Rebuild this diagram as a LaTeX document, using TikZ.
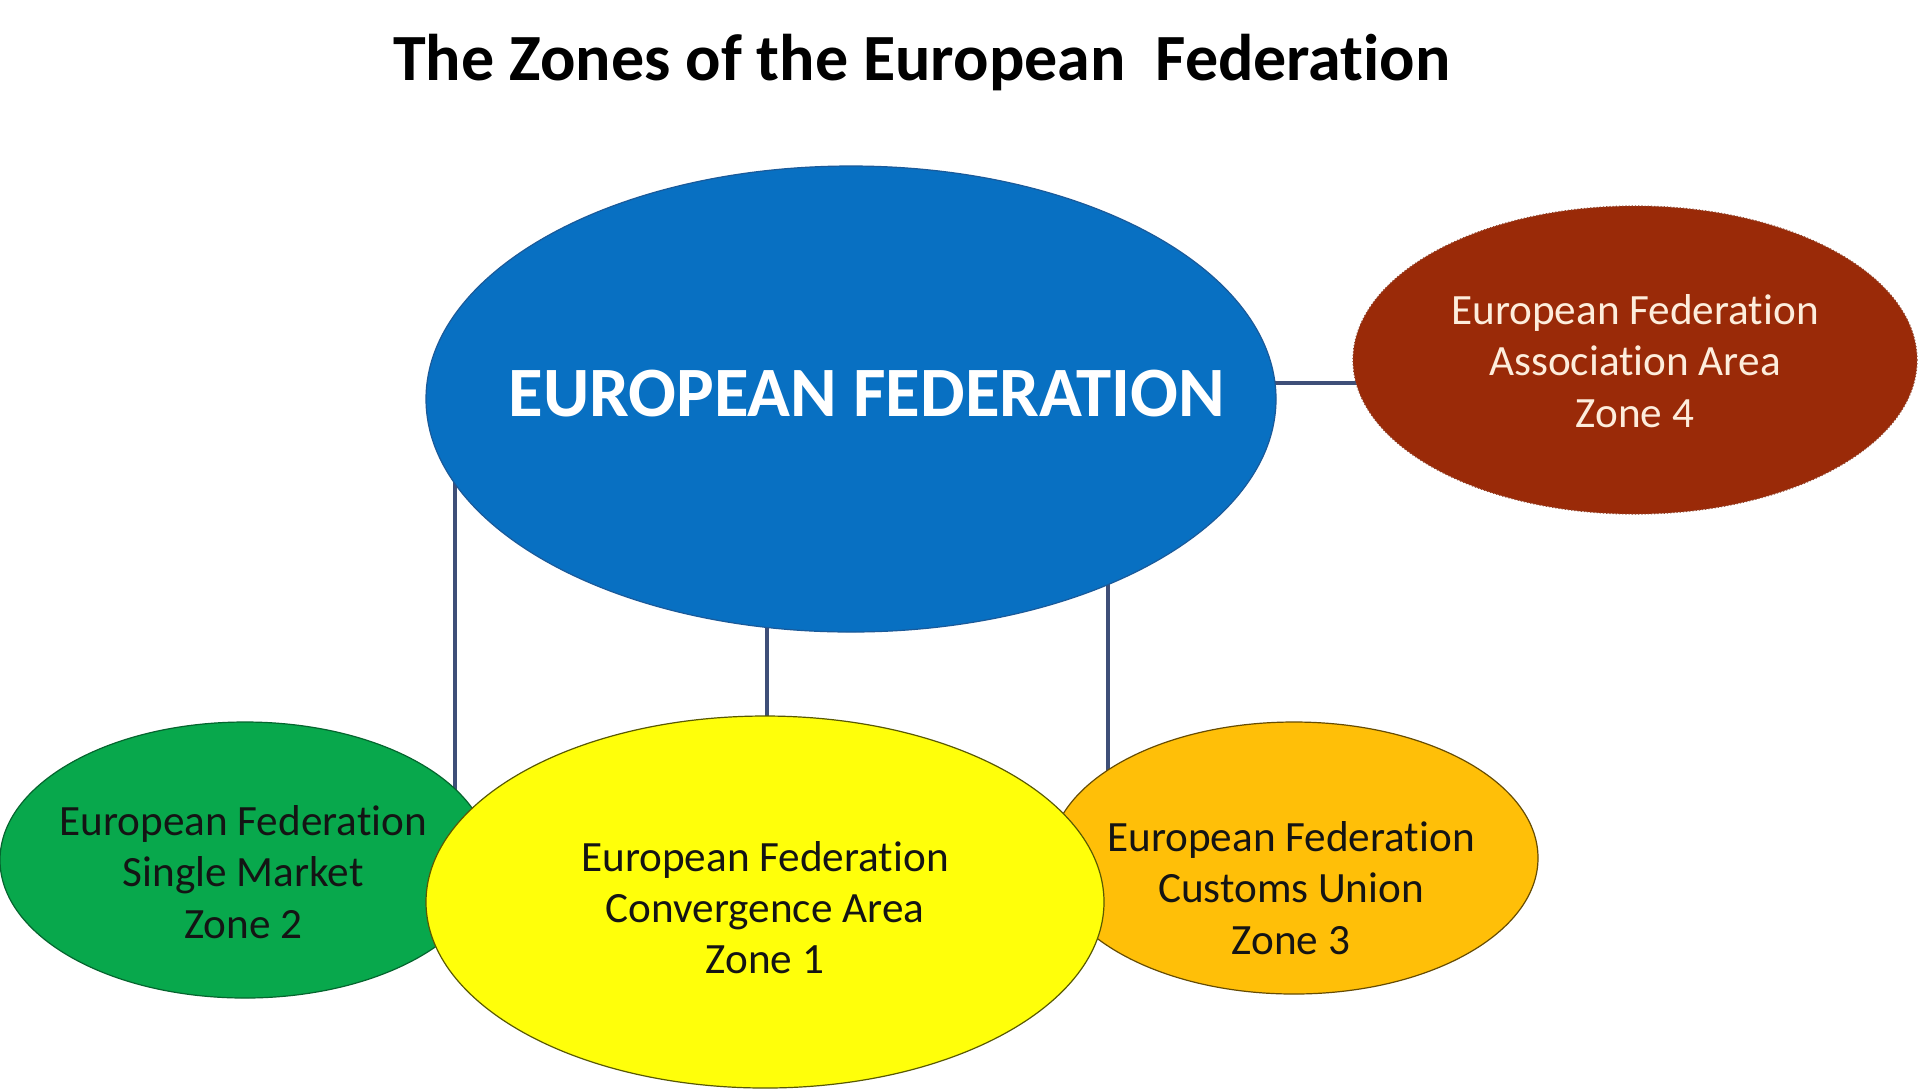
\documentclass[tikz,border=0pt]{standalone}
\usepackage{fontspec}
\setmainfont{Carlito}[Ligatures=NoCommon]
\usetikzlibrary{shapes.geometric}
\pgfdeclarelayer{bg}
\pgfsetlayers{bg,main}
\definecolor{efblue}{HTML}{0870C2}
\definecolor{efblueline}{HTML}{1A5A9A}
\definecolor{efbrown}{HTML}{9A2A08}
\definecolor{efgreen}{HTML}{08A84C}
\definecolor{efyellow}{HTML}{FFFF0A}
\definecolor{eforange}{HTML}{FFBF08}
\definecolor{efconn}{HTML}{3E4F78}
\definecolor{efcream}{HTML}{FDEDDC}
\definecolor{efdark}{HTML}{141414}
% #1 = horizontal shift, #2 = vertical shift, #3 = lines
\newcommand{\zonetext}[3]{\hspace*{#1}\raisebox{#2}[0pt][0pt]{\makebox[0pt][c]{\renewcommand{\arraystretch}{1}\begin{tabular}{@{}c@{}}#3\end{tabular}}}}
\begin{document}
\begin{tikzpicture}[x=0.5pt,y=-0.5pt,
  zone/.style={ellipse, inner sep=0pt, font=\fontsize{21.6}{25.7}\selectfont, line width=0.6pt},
  conn/.style={draw=efconn, line width=1.7pt}]
\useasboundingbox (0,0) rectangle (1920,1089);
\begin{pgfonlayer}{bg}
\fill[white] (0,0) rectangle (1920,1089);
\end{pgfonlayer}
\node (title) at (922,63) {\fontsize{33}{38}\selectfont\bfseries The Zones of the European \ Federation};
\node[zone, fill=efblue, draw=efblueline, minimum width=425pt, minimum height=233pt, text=white,
  font=\fontsize{35.4}{40}\selectfont\bfseries] (ef) at (851,399) {\makebox[0pt][c]{\hspace{16pt}\raisebox{6pt}{EUROPEAN FEDERATION}}};
\node[zone, fill=efbrown, draw=efbrown!70!gray, densely dotted, minimum width=282pt, minimum height=154pt, text=efcream] (z4) at (1635,360)
  {\zonetext{0pt}{-7.9pt}{European Federation\\Association Area\\Zone 4}};
\node[zone, fill=efgreen, draw=efgreen!60!black, minimum width=245pt, minimum height=138pt, text=efdark] (z2) at (245,860)
  {\zonetext{-1.8pt}{-13.4pt}{European Federation\\Single Market\\Zone 2}};
\node[zone, fill=eforange, draw=eforange!40!black, minimum width=244pt, minimum height=136pt, text=efdark] (z3) at (1294,858)
  {\zonetext{-3pt}{-22.5pt}{European Federation\\Customs Union\\Zone 3}};
\node[zone, fill=efyellow, draw=efyellow!35!black, minimum width=339pt, minimum height=186pt, text=efdark] (z1) at (765,902)
  {\zonetext{0pt}{-10.3pt}{European Federation\\Convergence Area\\Zone 1}};
\coordinate (xl) at (455,0);
\coordinate (xm) at (767,0);
\coordinate (xr) at (1108,0);
\coordinate (yh) at (0,383);
\begin{pgfonlayer}{bg}
\draw[conn] (ef.center -| xl) -- (z2.center -| xl);
\draw[conn] (ef.center -| xm) -- (z1.center -| xm);
\draw[conn] (ef.center -| xr) -- (z3.center -| xr);
\draw[conn] (ef.center |- yh) -- (z4.center |- yh);
\end{pgfonlayer}
\end{tikzpicture}
\end{document}
